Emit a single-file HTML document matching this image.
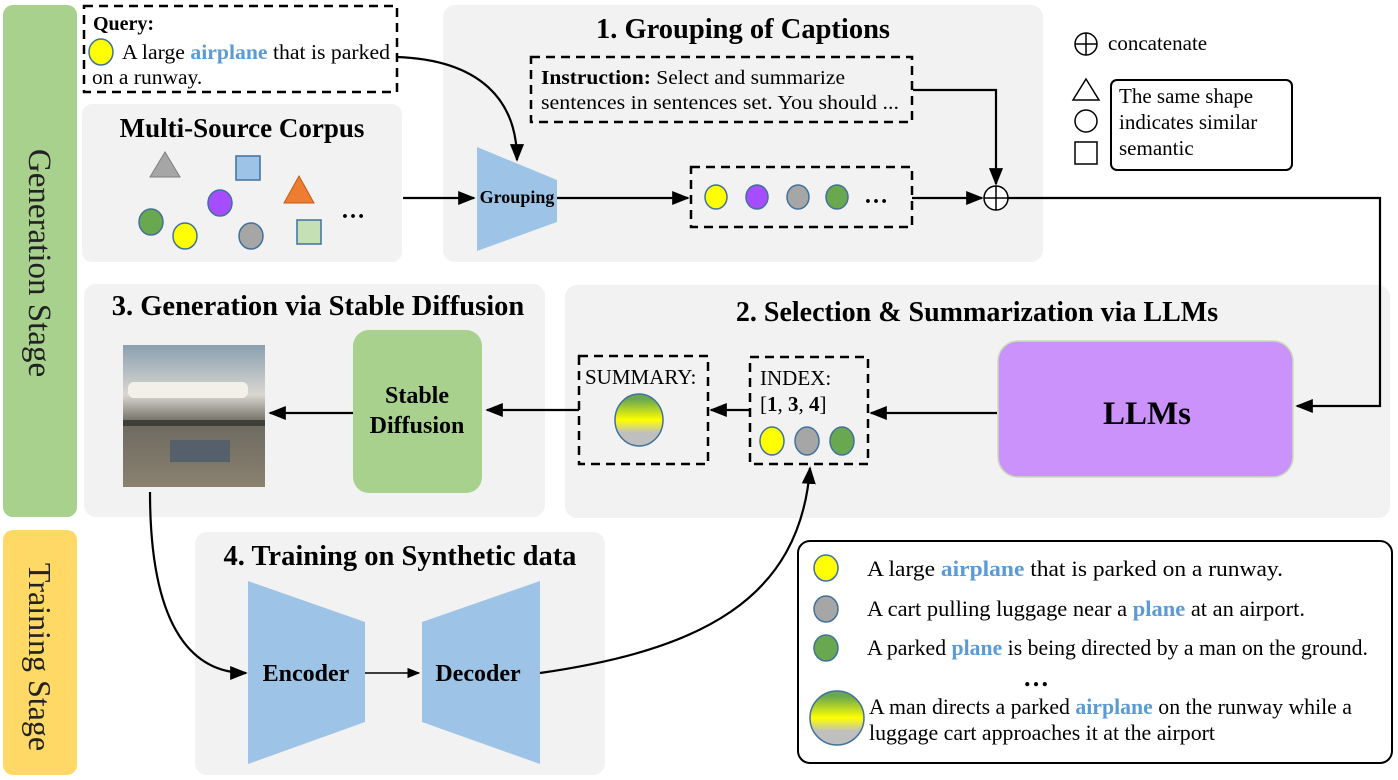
<!DOCTYPE html>
<html><head><meta charset="utf-8"><style>
html,body{margin:0;padding:0;background:#fff;}
svg{display:block;font-family:"Liberation Serif",serif;}
.b{font-weight:bold;}
.bl{fill:#5b9bd5;font-weight:bold;}
</style></head><body>
<svg width="1398" height="780" viewBox="0 0 1398 780" xmlns="http://www.w3.org/2000/svg">
<defs>
<marker id="ar" viewBox="0 0 10 10" refX="9" refY="5" markerWidth="8" markerHeight="8" orient="auto-start-reverse"><path d="M0,1 L10,5 L0,9 z" fill="#000"/></marker>
<linearGradient id="gy" x1="0" y1="0" x2="0" y2="1"><stop offset="0.1" stop-color="#6aa84f"/><stop offset="0.5" stop-color="#ffff00"/><stop offset="0.75" stop-color="#bfbfbf"/></linearGradient>
<linearGradient id="img" x1="0" y1="0" x2="0" y2="1"><stop offset="0" stop-color="#8aa0b0"/><stop offset="0.35" stop-color="#d9d7d0"/><stop offset="0.55" stop-color="#6d6a60"/><stop offset="1" stop-color="#8a8170"/></linearGradient>
</defs>
<rect x="3" y="5" width="74" height="512" rx="10" fill="#a9d18e"/>
<text transform="translate(29,263) rotate(90)" text-anchor="middle" font-size="33" fill="#222">Generation Stage</text>
<rect x="3" y="530" width="74" height="245" rx="10" fill="#ffd966"/>
<text transform="translate(29,657) rotate(90)" text-anchor="middle" font-size="32" fill="#222">Training Stage</text>

<rect x="82" y="104" width="320" height="158" rx="10" fill="#f2f2f2"/>
<rect x="443" y="5" width="600" height="257" rx="12" fill="#f2f2f2"/>
<rect x="84" y="284" width="461" height="233" rx="12" fill="#f2f2f2"/>
<rect x="565" y="285" width="825" height="233" rx="12" fill="#f2f2f2"/>
<rect x="195" y="532" width="410" height="243" rx="12" fill="#f2f2f2"/>

<rect x="84" y="6" width="313" height="86" fill="none" stroke="#000" stroke-width="2.5" stroke-dasharray="9,6"/>
<text x="93" y="30" font-size="20" class="b">Query:</text>
<ellipse cx="101" cy="52" rx="12" ry="13" fill="#ffff00" stroke="#41719c" stroke-width="1.5"/>
<text x="122" y="59" font-size="21.5" textLength="268" lengthAdjust="spacingAndGlyphs">A large <tspan class="bl">airplane</tspan> that is parked</text>
<text x="92" y="84" font-size="21.5">on a runway.</text>

<text x="242" y="137" font-size="27" class="b" text-anchor="middle">Multi-Source Corpus</text>
<polygon points="165,152 150,177 180,177" fill="#a6a6a6" stroke="#7f7f7f"/>
<rect x="236" y="156" width="24" height="24" fill="#9dc3e6" stroke="#41719c" stroke-width="1.5"/>
<polygon points="299,176 284,203 314,203" fill="#ed7d31" stroke="#c55a11"/>
<ellipse cx="220" cy="203" rx="12" ry="13" fill="#a64dff" stroke="#41719c" stroke-width="1.5"/>
<ellipse cx="151" cy="222" rx="12" ry="13" fill="#6aa84f" stroke="#41719c" stroke-width="1.5"/>
<ellipse cx="185" cy="236" rx="12" ry="13" fill="#ffff00" stroke="#41719c" stroke-width="1.5"/>
<ellipse cx="251" cy="236" rx="12" ry="13" fill="#a6a6a6" stroke="#41719c" stroke-width="1.5"/>
<rect x="297" y="220" width="24" height="24" fill="#c5e0b4" stroke="#41719c" stroke-width="1.5"/>
<text x="353" y="218" font-size="24" class="b" text-anchor="middle">…</text>

<text x="743" y="38" font-size="28.5" class="b" text-anchor="middle">1. Grouping of Captions</text>
<rect x="531" y="57" width="381" height="65" fill="none" stroke="#000" stroke-width="2.5" stroke-dasharray="9,6"/>
<text x="541" y="84" font-size="20" textLength="304" lengthAdjust="spacingAndGlyphs"><tspan class="b">Instruction:</tspan> Select and summarize</text>
<text x="541" y="109" font-size="20" textLength="358" lengthAdjust="spacingAndGlyphs">sentences in sentences set. You should  ...</text>
<polygon points="477,147 557,180 557,222 477,251" fill="#9dc3e6"/>
<text x="517" y="203" font-size="18" class="b" text-anchor="middle">Grouping</text>
<rect x="691" y="167" width="221" height="60" fill="none" stroke="#000" stroke-width="2.5" stroke-dasharray="9,6"/>
<ellipse cx="716" cy="197" rx="11" ry="12" fill="#ffff00" stroke="#41719c" stroke-width="1.5"/>
<ellipse cx="757" cy="197" rx="11" ry="12" fill="#a64dff" stroke="#41719c" stroke-width="1.5"/>
<ellipse cx="798" cy="197" rx="11" ry="12" fill="#a6a6a6" stroke="#41719c" stroke-width="1.5"/>
<ellipse cx="837" cy="197" rx="11" ry="12" fill="#6aa84f" stroke="#41719c" stroke-width="1.5"/>
<text x="876" y="203" font-size="24" class="b" text-anchor="middle">…</text>
<circle cx="996" cy="198" r="12" fill="#fff" stroke="#000" stroke-width="1.5"/>
<path d="M984,198 H1008 M996,186 V210" stroke="#000" stroke-width="1.5"/>

<circle cx="1086" cy="44" r="11" fill="#fff" stroke="#000" stroke-width="1.5"/>
<path d="M1075,44 H1097 M1086,33 V55" stroke="#000" stroke-width="1.5"/>
<text x="1108" y="50" font-size="21">concatenate</text>
<polygon points="1086,79 1073,100 1099,100" fill="#fff" stroke="#000" stroke-width="1.5"/>
<circle cx="1086" cy="121" r="11" fill="#fff" stroke="#000" stroke-width="1.5"/>
<rect x="1075" y="142" width="22" height="22" fill="#fff" stroke="#000" stroke-width="1.5"/>
<rect x="1111" y="80" width="181" height="90" rx="6" fill="#fff" stroke="#000" stroke-width="2"/>
<text x="1119" y="103" font-size="21">The same shape</text>
<text x="1119" y="129" font-size="21">indicates similar</text>
<text x="1119" y="155" font-size="21">semantic</text>

<text x="318" y="315" font-size="28.5" class="b" text-anchor="middle">3. Generation via Stable Diffusion</text>
<rect x="123" y="345" width="142" height="142" fill="url(#img)"/>
<rect x="128" y="382" width="120" height="16" rx="6" fill="#f2f0e8"/>
<rect x="123" y="420" width="142" height="6" fill="#3f3f3a"/>
<rect x="170" y="440" width="60" height="22" fill="#55606a"/>
<rect x="353" y="330" width="129" height="163" rx="16" fill="#a9d18e"/>
<text x="417" y="403" font-size="24" class="b" text-anchor="middle">Stable</text>
<text x="417" y="433" font-size="24" class="b" text-anchor="middle">Diffusion</text>

<text x="977" y="321" font-size="28" class="b" text-anchor="middle">2. Selection &amp;  Summarization via LLMs</text>
<rect x="579" y="356" width="129" height="108" fill="none" stroke="#000" stroke-width="2.5" stroke-dasharray="9,6"/>
<text x="585" y="384" font-size="21">SUMMARY:</text>
<ellipse cx="639" cy="420" rx="24" ry="26" fill="url(#gy)" stroke="#41719c" stroke-width="1.5"/>
<rect x="750" y="357" width="118" height="107" fill="none" stroke="#000" stroke-width="2.5" stroke-dasharray="9,6"/>
<text x="760" y="385" font-size="21">INDEX:</text>
<text x="760" y="411" font-size="21">[<tspan class="b">1</tspan>, <tspan class="b">3</tspan>, <tspan class="b">4</tspan>]</text>
<ellipse cx="772" cy="441" rx="12" ry="14" fill="#ffff00" stroke="#41719c" stroke-width="1.5"/>
<ellipse cx="807" cy="441" rx="12" ry="14" fill="#a6a6a6" stroke="#41719c" stroke-width="1.5"/>
<ellipse cx="842" cy="441" rx="12" ry="14" fill="#6aa84f" stroke="#41719c" stroke-width="1.5"/>
<rect x="998" y="341" width="295" height="136" rx="20" fill="#cc92fb" stroke="#c5e0b4" stroke-width="1.5"/>
<text x="1147" y="424" font-size="33" class="b" text-anchor="middle">LLMs</text>

<text x="400" y="565" font-size="28.5" class="b" text-anchor="middle">4. Training on Synthetic data</text>
<polygon points="248,581 365,622 365,722 248,764" fill="#9dc3e6"/>
<text x="306" y="681" font-size="24" class="b" text-anchor="middle">Encoder</text>
<polygon points="422,622 540,581 540,764 422,722" fill="#9dc3e6"/>
<text x="478" y="681" font-size="24" class="b" text-anchor="middle">Decoder</text>

<rect x="798" y="541" width="594" height="222" rx="12" fill="#fff" stroke="#000" stroke-width="2"/>
<g font-size="22">
<ellipse cx="826" cy="568" rx="12" ry="13" fill="#ffff00" stroke="#41719c" stroke-width="1.5"/>
<text x="867" y="576" textLength="416" lengthAdjust="spacingAndGlyphs">A large <tspan class="bl">airplane</tspan> that is parked on a runway.</text>
<ellipse cx="826" cy="609" rx="12" ry="13" fill="#a6a6a6" stroke="#41719c" stroke-width="1.5"/>
<text x="867" y="616" textLength="438" lengthAdjust="spacingAndGlyphs">A cart pulling luggage near a <tspan class="bl">plane</tspan> at an airport.</text>
<ellipse cx="826" cy="648" rx="12" ry="13" fill="#6aa84f" stroke="#41719c" stroke-width="1.5"/>
<text x="867" y="655" textLength="501" lengthAdjust="spacingAndGlyphs">A parked <tspan class="bl">plane</tspan> is being directed by a man on the ground.</text>
<text x="1036" y="686" font-size="26" class="b" text-anchor="middle">…</text>
<ellipse cx="837" cy="718" rx="27" ry="27" fill="url(#gy)" stroke="#41719c" stroke-width="1.5"/>
<text x="869" y="714" textLength="483" lengthAdjust="spacingAndGlyphs">A man directs a parked <tspan class="bl">airplane</tspan> on the runway while a</text>
<text x="869" y="740" textLength="346" lengthAdjust="spacingAndGlyphs">luggage cart approaches it at the airport</text>
</g>

<g fill="none" stroke="#000" stroke-width="2.2">
<path d="M397,57 C480,60 517,100 517,160" marker-end="url(#ar)"/>
<path d="M403,198 H474" marker-end="url(#ar)"/>
<path d="M557,198 H688" marker-end="url(#ar)"/>
<path d="M912,198 H982" marker-end="url(#ar)"/>
<path d="M913,90 H996 V184" marker-end="url(#ar)"/>
<path d="M1008,198 H1380 V406 H1297" marker-end="url(#ar)"/>
<path d="M997,413 H871" marker-end="url(#ar)"/>
<path d="M750,410 H711" marker-end="url(#ar)"/>
<path d="M579,410 H487" marker-end="url(#ar)"/>
<path d="M353,413 H270" marker-end="url(#ar)"/>
<path d="M150,492 C150,640 200,673 246,673" marker-end="url(#ar)"/>
<path d="M365,673 H419" stroke-width="1.6" marker-end="url(#ar)"/>
<path d="M540,673 C700,650 800,600 810,468" marker-end="url(#ar)"/>
</g>
</svg>
</body></html>
